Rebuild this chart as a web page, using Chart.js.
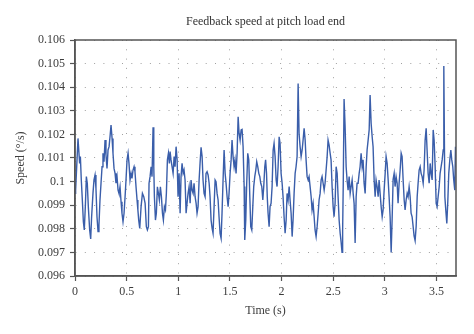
<!DOCTYPE html>
<html>
<head>
<meta charset="utf-8">
<title>Feedback speed at pitch load end</title>
<script src="https://cdn.jsdelivr.net/npm/chart.js@4/dist/chart.umd.min.js"></script>
<style>
  html, body { margin: 0; padding: 0; background: #ffffff; }
  #chart { display: block; }
</style>
</head>
<body>
<canvas id="chart" width="474" height="334"></canvas>
<script>
// Feedback speed measured at the pitch load end
const chartTitle = 'Feedback speed at pitch load end';
const xAxisTitle = 'Time (s)';
const yAxisTitle = 'Speed (°/s)';

const xTicks = [0, 0.5, 1, 1.5, 2, 2.5, 3, 3.5];
const xTickLabels = ['0', '0.5', '1', '1.5', '2', '2.5', '3', '3.5'];
const yTicks = [0.096, 0.097, 0.098, 0.099, 0.1, 0.101, 0.102, 0.103, 0.104, 0.105, 0.106];
const yTickLabels = ['0.096', '0.097', '0.098', '0.099', '0.1', '0.101', '0.102', '0.103', '0.104', '0.105', '0.106'];

// sample times (s)
const timeS = [
  0.000, 0.006, 0.029, 0.045, 0.052, 0.061, 0.071, 0.081, 0.090, 0.100,
  0.110, 0.119, 0.129, 0.142, 0.152, 0.161, 0.174, 0.184, 0.194, 0.203,
  0.213, 0.223, 0.232, 0.242, 0.252, 0.262, 0.271, 0.281, 0.291, 0.300,
  0.310, 0.320, 0.330, 0.339, 0.349, 0.359, 0.368, 0.378, 0.388, 0.397,
  0.407, 0.417, 0.426, 0.436, 0.446, 0.455, 0.465, 0.475, 0.485, 0.494,
  0.504, 0.514, 0.523, 0.533, 0.543, 0.552, 0.562, 0.572, 0.581, 0.591,
  0.601, 0.609, 0.617, 0.627, 0.640, 0.653, 0.666, 0.679, 0.691, 0.701,
  0.711, 0.717, 0.727, 0.737, 0.746, 0.756, 0.763, 0.769, 0.779, 0.788,
  0.798, 0.808, 0.817, 0.827, 0.837, 0.847, 0.856, 0.866, 0.876, 0.885,
  0.895, 0.905, 0.914, 0.921, 0.930, 0.940, 0.950, 0.960, 0.969, 0.979,
  0.989, 0.998, 1.008, 1.018, 1.027, 1.037, 1.047, 1.056, 1.066, 1.076,
  1.085, 1.095, 1.105, 1.115, 1.124, 1.134, 1.144, 1.153, 1.163, 1.173,
  1.182, 1.192, 1.202, 1.211, 1.221, 1.231, 1.240, 1.250, 1.260, 1.269,
  1.279, 1.289, 1.299, 1.308, 1.318, 1.328, 1.337, 1.347, 1.357, 1.366,
  1.376, 1.386, 1.395, 1.405, 1.415, 1.424, 1.434, 1.444, 1.454, 1.463,
  1.473, 1.483, 1.492, 1.502, 1.512, 1.521, 1.531, 1.541, 1.550, 1.560,
  1.570, 1.580, 1.589, 1.599, 1.609, 1.618, 1.628, 1.638, 1.644, 1.654,
  1.663, 1.673, 1.683, 1.693, 1.702, 1.712, 1.722, 1.731, 1.741, 1.751,
  1.760, 1.770, 1.780, 1.790, 1.799, 1.809, 1.819, 1.828, 1.838, 1.846,
  1.855, 1.862, 1.870, 1.880, 1.889, 1.899, 1.909, 1.919, 1.928, 1.938,
  1.948, 1.957, 1.967, 1.977, 1.986, 1.996, 2.006, 2.015, 2.025, 2.035,
  2.045, 2.054, 2.064, 2.074, 2.083, 2.093, 2.103, 2.112, 2.122, 2.132,
  2.141, 2.151, 2.161, 2.170, 2.180, 2.190, 2.200, 2.209, 2.219, 2.229,
  2.238, 2.248, 2.258, 2.267, 2.277, 2.287, 2.296, 2.306, 2.316, 2.325,
  2.335, 2.345, 2.355, 2.364, 2.374, 2.384, 2.393, 2.403, 2.413, 2.422,
  2.432, 2.442, 2.451, 2.461, 2.471, 2.480, 2.490, 2.500, 2.509, 2.519,
  2.529, 2.539, 2.548, 2.558, 2.568, 2.577, 2.586, 2.592, 2.598, 2.606,
  2.616, 2.626, 2.635, 2.645, 2.655, 2.665, 2.674, 2.684, 2.694, 2.703,
  2.713, 2.723, 2.732, 2.742, 2.752, 2.761, 2.771, 2.781, 2.790, 2.800,
  2.810, 2.820, 2.829, 2.839, 2.849, 2.858, 2.868, 2.878, 2.887, 2.897,
  2.907, 2.916, 2.926, 2.936, 2.945, 2.955, 2.965, 2.975, 2.984, 2.994,
  3.004, 3.013, 3.023, 3.033, 3.042, 3.052, 3.062, 3.072, 3.081, 3.091,
  3.100, 3.110, 3.120, 3.129, 3.139, 3.149, 3.159, 3.168, 3.178, 3.188,
  3.197, 3.207, 3.217, 3.226, 3.236, 3.246, 3.255, 3.265, 3.275, 3.284,
  3.294, 3.304, 3.314, 3.323, 3.333, 3.343, 3.352, 3.362, 3.372, 3.381,
  3.391, 3.401, 3.410, 3.420, 3.430, 3.440, 3.449, 3.459, 3.469, 3.478,
  3.488, 3.498, 3.507, 3.517, 3.527, 3.536, 3.546, 3.556, 3.566, 3.572,
  3.582, 3.591, 3.601, 3.611, 3.620, 3.630, 3.640, 3.649, 3.659, 3.668,
  3.678, 3.685, 3.690
];

// feedback speed (°/s)
const speed = [
  0.09950, 0.09964, 0.10183, 0.10077, 0.10106, 0.10007, 0.09922, 0.09830, 0.09795, 0.09894,
  0.10021, 0.09993, 0.09894, 0.09795, 0.09757, 0.09851, 0.09950, 0.10007, 0.10028, 0.09971,
  0.09851, 0.09788, 0.09816, 0.09922, 0.09993, 0.10063, 0.10120, 0.10084, 0.10176, 0.10113,
  0.10056, 0.10134, 0.10148, 0.10190, 0.10240, 0.10183, 0.10120, 0.10056, 0.10035, 0.09993,
  0.10021, 0.09964, 0.09950, 0.09978, 0.09915, 0.09866, 0.09830, 0.09866, 0.09936, 0.10007,
  0.10092, 0.10120, 0.10077, 0.10007, 0.10035, 0.10014, 0.10049, 0.10063, 0.10042, 0.09978,
  0.09922, 0.09880, 0.09837, 0.09802, 0.09894, 0.09950, 0.09936, 0.09908, 0.09809, 0.09795,
  0.09809, 0.09993, 0.10021, 0.10063, 0.10021, 0.10230, 0.10063, 0.09936, 0.09837, 0.09866,
  0.09978, 0.09950, 0.09922, 0.09978, 0.09936, 0.09866, 0.09837, 0.09894, 0.09880, 0.09950,
  0.10092, 0.10120, 0.10077, 0.10127, 0.10092, 0.10063, 0.10035, 0.10106, 0.10063, 0.10148,
  0.10092, 0.09936, 0.10035, 0.09866, 0.10021, 0.10077, 0.10035, 0.10049, 0.10007, 0.09866,
  0.09908, 0.09950, 0.09978, 0.09908, 0.10007, 0.09964, 0.09950, 0.09993, 0.09936, 0.09908,
  0.09866, 0.09894, 0.10007, 0.10077, 0.10145, 0.10106, 0.10007, 0.09950, 0.09936, 0.10035,
  0.10042, 0.10028, 0.09993, 0.09936, 0.09837, 0.09802, 0.09781, 0.09894, 0.10007, 0.10000,
  0.09950, 0.09922, 0.09851, 0.09781, 0.09760, 0.09866, 0.10007, 0.10134, 0.10035, 0.09993,
  0.09936, 0.09894, 0.09950, 0.10035, 0.10092, 0.10176, 0.10106, 0.10063, 0.10092, 0.10035,
  0.10120, 0.10275, 0.10205, 0.10176, 0.10219, 0.10221, 0.10148, 0.09979, 0.09753, 0.09837,
  0.09993, 0.10120, 0.10092, 0.09936, 0.09809, 0.09795, 0.09894, 0.09979, 0.10021, 0.10049,
  0.10084, 0.10063, 0.10035, 0.10021, 0.09993, 0.09979, 0.09922, 0.09979, 0.10063, 0.10092,
  0.10035, 0.09936, 0.09866, 0.09809, 0.09894, 0.09908, 0.09979, 0.10134, 0.10162, 0.10106,
  0.10007, 0.09979, 0.10063, 0.10190, 0.10162, 0.10035, 0.09993, 0.09936, 0.09851, 0.09781,
  0.09837, 0.09950, 0.09922, 0.09979, 0.09922, 0.09866, 0.09767, 0.09837, 0.09950, 0.10035,
  0.10063, 0.10106, 0.10416, 0.10205, 0.10148, 0.10106, 0.10134, 0.10176, 0.10226, 0.10176,
  0.10092, 0.10021, 0.10007, 0.10021, 0.09979, 0.09936, 0.09880, 0.09908, 0.09851, 0.09795,
  0.09767, 0.09809, 0.09866, 0.09922, 0.09950, 0.10007, 0.10021, 0.09993, 0.09964, 0.09993,
  0.10049, 0.10106, 0.10176, 0.10155, 0.10120, 0.10092, 0.09979, 0.09894, 0.09851, 0.09908,
  0.10063, 0.10035, 0.09936, 0.09837, 0.09781, 0.09745, 0.09700, 0.09790, 0.09990, 0.10350,
  0.10233, 0.10063, 0.10007, 0.09964, 0.10021, 0.09950, 0.09978, 0.10007, 0.09950, 0.09908,
  0.09740, 0.09936, 0.09993, 0.09993, 0.10035, 0.10063, 0.10120, 0.10063, 0.10092, 0.09993,
  0.09950, 0.10063, 0.10134, 0.10176, 0.10219, 0.10367, 0.10247, 0.10190, 0.10148, 0.10007,
  0.09936, 0.10007, 0.09979, 0.09936, 0.10007, 0.09950, 0.09894, 0.09851, 0.09880, 0.09964,
  0.10035, 0.10106, 0.10077, 0.10007, 0.09936, 0.09850, 0.09700, 0.09850, 0.10010, 0.10035,
  0.09979, 0.10021, 0.09993, 0.09908, 0.09993, 0.10049, 0.10120, 0.10106, 0.10007, 0.09922,
  0.09880, 0.09922, 0.09950, 0.09936, 0.09978, 0.09936, 0.09866, 0.09851, 0.09809, 0.09770,
  0.09750, 0.09809, 0.09936, 0.09993, 0.10049, 0.10063, 0.10035, 0.10021, 0.09993, 0.10049,
  0.10176, 0.10226, 0.10134, 0.10035, 0.09993, 0.10077, 0.10035, 0.10007, 0.10219, 0.10176,
  0.10063, 0.09908, 0.09894, 0.09936, 0.09978, 0.10035, 0.10063, 0.10092, 0.10134, 0.10490,
  0.09936, 0.09880, 0.09823, 0.09920, 0.10035, 0.10092, 0.10134, 0.10092, 0.10063, 0.10007,
  0.09964, 0.10148, 0.10063
];

const serif = "'Liberation Serif', 'Times New Roman', 'DejaVu Serif', serif";
const textColor = '#3c3c3c';
const axisColor = '#555555';
const gridColor = '#a0a0a0';

const points = timeS.map((t, i) => ({ x: t, y: speed[i] }));

// closes the plot box on the top and right sides
const frameBox = {
  id: 'frameBox',
  afterDatasetsDraw(chart) {
    const { ctx, chartArea: a } = chart;
    ctx.save();
    ctx.strokeStyle = axisColor;
    ctx.lineWidth = 1.5;
    ctx.strokeRect(a.left, a.top, a.right - a.left, a.bottom - a.top);
    ctx.restore();
  }
};

new Chart(document.getElementById('chart'), {
  type: 'line',
  data: {
    datasets: [{
      data: points,
      borderColor: '#3a5eaa',
      borderWidth: 1.4,
      pointRadius: 0,
      tension: 0,
      fill: false
    }]
  },
  options: {
    responsive: false,
    animation: false,
    devicePixelRatio: 1,
    layout: { padding: { left: 0, right: 18, top: 0, bottom: 0 } },
    plugins: {
      legend: { display: false },
      tooltip: { enabled: false },
      title: {
        display: true,
        fullSize: false,
        text: chartTitle,
        color: '#333333',
        font: { family: serif, size: 12, weight: 'normal' },
        padding: { top: 15, bottom: 10.6 }
      }
    },
    scales: {
      x: {
        type: 'linear',
        min: 0,
        max: 3.69,
        afterBuildTicks(scale) { scale.ticks = xTicks.map(v => ({ value: v })); },
        afterFit(scale) { scale.height = 58; },
        ticks: {
          autoSkip: false,
          maxRotation: 0,
          padding: 4,
          color: textColor,
          font: { family: serif, size: 12 },
          callback: (v, i) => xTickLabels[i]
        },
        grid: {
          color: gridColor,
          lineWidth: 1,
          tickColor: axisColor,
          tickLength: 5,
          tickWidth: 1.2
        },
        border: { display: true, color: axisColor, width: 1.5, dash: [1, 8.3] },
        title: {
          display: true,
          text: xAxisTitle,
          color: textColor,
          font: { family: serif, size: 12 },
          padding: { top: 0, bottom: 15.8 }
        }
      },
      y: {
        min: 0.096,
        max: 0.106,
        afterBuildTicks(scale) { scale.ticks = yTicks.map(v => ({ value: v })); },
        afterFit(scale) { scale.width = 75; },
        ticks: {
          autoSkip: false,
          padding: 5,
          color: textColor,
          font: { family: serif, size: 12 },
          callback: (v, i) => yTickLabels[i]
        },
        grid: {
          color: gridColor,
          lineWidth: 1,
          tickColor: axisColor,
          tickLength: 5,
          tickWidth: 1.2
        },
        border: { display: true, color: axisColor, width: 1.5, dash: [1, 8.3] },
        title: {
          display: true,
          text: yAxisTitle,
          color: textColor,
          font: { family: serif, size: 12 },
          padding: { top: 13.5, bottom: 0 }
        }
      }
    }
  },
  plugins: [frameBox]
});
</script>
</body>
</html>
